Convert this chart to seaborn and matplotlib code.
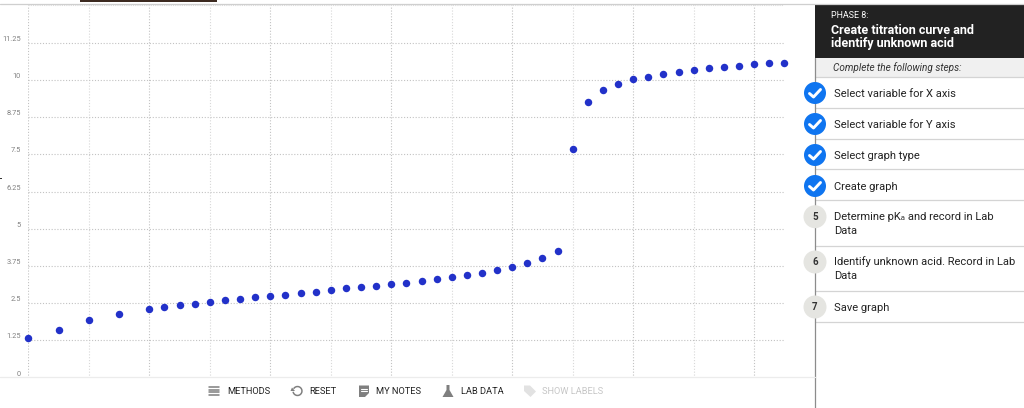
import matplotlib
matplotlib.use('Agg')
import matplotlib.pyplot as plt
from matplotlib.patches import Circle, Rectangle, Wedge, Polygon
import pandas as pd
import seaborn as sns

# Values
volume = [0, 2, 4, 6, 8, 9, 10, 11, 12, 13, 14, 15, 16, 17, 18, 19, 20, 21, 22, 23, 24,
          25, 26, 27, 28, 29, 30, 31, 32, 33, 34, 35, 36, 37, 38, 39, 40, 41, 42, 43,
          44, 45, 46, 47, 48, 49, 50]
ph = [1.32, 1.61, 1.94, 2.15, 2.29, 2.37, 2.43, 2.48, 2.54, 2.60, 2.65, 2.70, 2.74,
      2.79, 2.84, 2.89, 2.93, 3.00, 3.04, 3.09, 3.13, 3.19, 3.26, 3.31, 3.37, 3.45,
      3.51, 3.62, 3.72, 3.84, 4.01, 4.26, 7.70, 9.25, 9.66, 9.88, 10.02, 10.12, 10.21,
      10.28, 10.34, 10.39, 10.44, 10.48, 10.53, 10.56, 10.59]
y_ticks = [0, 1.25, 2.5, 3.75, 5, 6.25, 7.5, 8.75, 10, 11.25]
y_labels = ['0', '1.25', '2.5', '3.75', '5', '6.25', '7.5', '8.75', '10', '11.25']
x_major = [0, 8, 16, 24, 32, 40, 48]
x_minor = [4, 12, 20, 28, 36, 44]

done_steps = ['Select variable for X axis', 'Select variable for Y axis',
              'Select graph type', 'Create graph']
todo_numbers = ['5', '6', '7']
todo_steps = ['Determine pK\u2090 and record in Lab\nData',
              'Identify unknown acid. Record in Lab\nData',
              'Save graph']
toolbar = ['METHODS', 'RESET', 'MY NOTES', 'LAB DATA', 'SHOW LABELS']

W, H = 1024, 408
sns.set_style('white')
plt.rcParams['font.family'] = ['Roboto', 'DejaVu Sans']

fig = plt.figure(figsize=(W / 100, H / 100), dpi=100, facecolor='white')

# the page furniture sits in a pixel-sized axes
ui = fig.add_axes([0, 0, 1, 1], zorder=3)
ui.set_xlim(0, W)
ui.set_ylim(H, 0)
ui.axis('off')

# chart
left, right, top, bottom = 28.4, 784.4, 4.5, 377.6
ax = fig.add_axes([left / W, 1 - bottom / H, (right - left) / W, (bottom - top) / H], zorder=2)
ax.patch.set_alpha(0)
df = pd.DataFrame({'volume': volume, 'ph': ph})
sns.scatterplot(data=df, x='volume', y='ph', color='#2231c9', s=29, linewidth=0,
                clip_on=False, zorder=5, ax=ax, legend=False)
ax.set_xlim(0, 50)
ax.set_ylim(0, 12.54)
ax.set_xlabel('')
ax.set_ylabel('')
ax.set_xticks(x_major)
ax.set_xticks(x_minor, minor=True)
ax.set_xticklabels([])
ax.set_yticks(y_ticks)
ax.set_yticklabels(y_labels, fontsize=5.3, color='#808080', va='bottom')
ax.tick_params(axis='both', which='both', length=0, pad=5.3)
ax.grid(True, axis='y', color='#c2c2c2', lw=0.8, ls=(0, (1, 1.6)))
ax.grid(True, axis='x', which='major', color='#c2c2c2', lw=0.8, ls=(0, (1, 1.6)))
ax.grid(True, axis='x', which='minor', color='#d8d8d8', lw=0.8, ls=(0, (1, 1.6)))
ax.axhline(12.54, color='#dddddd', lw=0.8, ls=(0, (1, 1)))
sns.despine(ax=ax, left=True, bottom=True, top=True, right=True)
ax.set_axisbelow(True)

# top bar and tab
ui.plot([0, W], [3.6, 3.6], color='#cfcfcf', lw=0.9)
ui.add_patch(Rectangle((80, 0), 137, 2.2, color='#3c2a20', lw=0))
ui.add_patch(Rectangle((0, 177.6), 2, 1, color='#333333', lw=0))
ui.plot([0, 815], [376.6, 376.6], color='#ececec', lw=0.9)

# side panel
ui.add_patch(Rectangle((815, 4), 209, 54, color='#222222', lw=0))
ui.add_patch(Rectangle((815, 58), 209, 19, color='#f0f0f0', lw=0))
for row_y in [77, 108, 139, 169, 200, 246, 291, 322]:
    ui.plot([815, W], [row_y, row_y], color='#d4d4d4', lw=0.9, zorder=1)
ui.plot([815, 815], [58, H], color='#8c8c8c', lw=0.9, zorder=1)
ui.text(831, 16, 'PHASE 8:', color='white', fontsize=6.4, va='center')
ui.text(831, 30.5, 'Create titration curve and', color='white', fontsize=9, weight='bold', va='center')
ui.text(831, 43, 'identify unknown acid', color='white', fontsize=9, weight='bold', va='center')
ui.text(833, 67.5, 'Complete the following steps:', color='#333333', fontsize=7.2, style='italic', va='center')

for step, cy in zip(done_steps, [93, 124, 155, 186]):
    ui.add_patch(Circle((815, cy), 11, color='#0f75f0', lw=0, zorder=3))
    ui.plot([809.5, 813.5, 820.5], [cy + 0.5, cy + 4, cy - 3.5], color='white', lw=2.1, zorder=4,
            solid_capstyle='round', solid_joinstyle='round')
    ui.text(834, cy + 0.8, step, color='#222222', fontsize=8, va='center')

for num, step, cy in zip(todo_numbers, todo_steps, [216.7, 262, 307]):
    ui.add_patch(Circle((815, cy), 11.5, color='#e5e5e1', lw=0, zorder=3))
    ui.text(815, cy, num, color='#333333', fontsize=7, weight='bold', ha='center', va='center', zorder=4)
    ui.text(834, cy + 0.8 if '\n' not in step else cy + 7, step, color='#222222', fontsize=8,
            va='center', linespacing=1.5)

# toolbar
grey = '#7f7f7f'
for offset in [387, 389.5, 392, 394.5]:
    ui.plot([209, 219], [offset, offset], color=grey, lw=1.1)
ui.add_patch(Wedge((297.5, 391), 5.2, 210, 170, width=1.5, color=grey, lw=0))
ui.add_patch(Polygon([[290.5, 391], [295, 391], [292, 387.5]], color=grey, lw=0))
ui.add_patch(Polygon([[359, 385.5], [369, 385.5], [369, 393], [365, 397], [359, 397]], color=grey, lw=0))
ui.plot([361, 367], [388.5, 388.5], color='white', lw=0.8)
ui.plot([361, 367], [391, 391], color='white', lw=0.8)
ui.add_patch(Polygon([[446.5, 385], [449.5, 385], [449.5, 390], [453.5, 397], [442.5, 397], [446.5, 390]],
                     color=grey, lw=0))
ui.add_patch(Polygon([[524, 385.5], [530, 385.5], [536, 391.5], [530.5, 397], [524, 391]],
                     color='#e2e2e2', lw=0))

for name, tx, col in zip(toolbar, [227, 309.5, 376.5, 461, 542],
                         ['#222222', '#222222', '#222222', '#222222', '#c6c6c6']):
    ui.text(tx, 391, name, color=col, fontsize=6.7, va='center')

fig.savefig('out.png', dpi=100)
